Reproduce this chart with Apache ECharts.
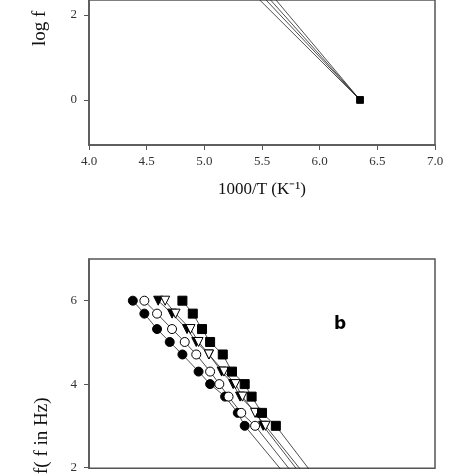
<!DOCTYPE html><html><head><meta charset="utf-8"><script src="https://cdn.jsdelivr.net/npm/echarts@6/dist/echarts.min.js"></script>
<style>html,body{margin:0;padding:0;background:#fff}#c{width:474px;height:474px}</style></head><body><div id="c"></div><script>
const xTicks=[4.0,4.5,5.0,5.5,6.0,6.5,7.0];
const yTicks=[0,2,4,6];
const logF=[6.0,5.69,5.32,5.01,4.71,4.30,4.0,3.70,3.31,3.0];
const sFilledCircle=[4.38,4.48,4.59,4.70,4.81,4.95,5.05,5.18,5.29,5.35];
const sOpenCircle=[4.48,4.59,4.72,4.83,4.93,5.05,5.13,5.21,5.32,5.44];
const sFilledTri=[4.60,4.72,4.85,4.93,5.04,5.15,5.25,5.31,5.45,5.51];
const sOpenTri=[4.66,4.75,4.88,4.95,5.04,5.17,5.27,5.33,5.44,5.53];
const sSquare=[4.81,4.90,4.98,5.05,5.16,5.24,5.35,5.41,5.50,5.62];
const tailX=[6.25,6.3,6.35,6.4,6.45];
const topUpperX=[5.24,5.31,5.36,5.42];
const topUpperY=3;
const topEnd=[6.35,0];
const syms=[['circle',true],['circle',false],['triangle',true],['triangle',false],['rect',true]];
const bottomSets=[sFilledCircle,sOpenCircle,sFilledTri,sOpenTri,sSquare];
const serif='Liberation Serif';
function xAx(gi,showAll){return {type:'value',gridIndex:gi,min:4,max:7,interval:0.5,
 axisLine:{show:showAll,onZero:false,lineStyle:{color:'#555',width:1.5}},axisTick:{show:showAll,length:5,lineStyle:{color:'#555'}},
 splitLine:{show:false},axisLabel:{show:showAll,color:'#333',fontFamily:serif,fontSize:13,margin:10,formatter:v=>v.toFixed(1)},
 name:showAll?'1000/T (K⁻¹)':'',nameLocation:'middle',nameGap:36,nameTextStyle:{fontFamily:serif,fontSize:17,color:'#111'}};}
function yAx(gi,mn,mx){return {type:'value',gridIndex:gi,min:mn,max:mx,
 axisLine:{show:true,onZero:false,lineStyle:{color:'#555',width:1.5}},axisTick:{show:true,length:5,customValues:yTicks.filter(v=>v>=mn&&v<=mx),lineStyle:{color:'#555'}},
 splitLine:{show:false},axisLabel:{color:'#333',fontFamily:serif,fontSize:13,margin:12,customValues:yTicks.filter(v=>v>=mn&&v<=mx)}};}
const series=[];
topUpperX.forEach(x=>{series.push({type:'line',xAxisIndex:0,yAxisIndex:0,data:[[x,topUpperY],topEnd],
 symbol:'rect',symbolSize:7,showSymbol:true,itemStyle:{color:'#000'},lineStyle:{color:'#222',width:0.8},silent:true});});
bottomSets.forEach((xs,i)=>{const [s,f]=syms[i];
 const d=xs.map((x,k)=>[x,logF[k]]);d.push([tailX[i],0]);
 series.push({type:'line',xAxisIndex:1,yAxisIndex:1,data:d,symbol:s,symbolSize:9,symbolRotate:s==='triangle'?180:0,
 itemStyle:{color:f?'#000':'#fff',borderColor:'#000',borderWidth:1},lineStyle:{color:'#222',width:0.8},silent:true});});
const ch=echarts.init(document.getElementById('c'));
ch.setOption({animation:false,
 grid:[{left:89,width:346,top:0,height:145,show:true,borderColor:'#555',borderWidth:1.5,backgroundColor:'transparent'},
       {left:89,width:346,top:259,height:216,show:true,borderColor:'#555',borderWidth:1.5,backgroundColor:'transparent'}],
 xAxis:[xAx(0,true),xAx(1,false)],yAxis:[yAx(0,-1.06,2.35),yAx(1,1.98,7)],series,
 graphic:[
  {type:'text',x:40,y:46,rotation:Math.PI/2,style:{text:'log f',fontFamily:serif,fontSize:19,fill:'#111',textAlign:'left',textVerticalAlign:'middle'}},
  {type:'text',x:42,y:503,rotation:Math.PI/2,style:{text:'log f( f in Hz)',fontFamily:serif,fontSize:19,fill:'#111',textAlign:'left',textVerticalAlign:'middle'}},
  {type:'text',x:340,y:325,style:{text:'b',fontFamily:'DejaVu Sans',fontWeight:'bold',fontSize:17,fill:'#000',textAlign:'center',textVerticalAlign:'middle'}}
 ]});
</script></body></html>
